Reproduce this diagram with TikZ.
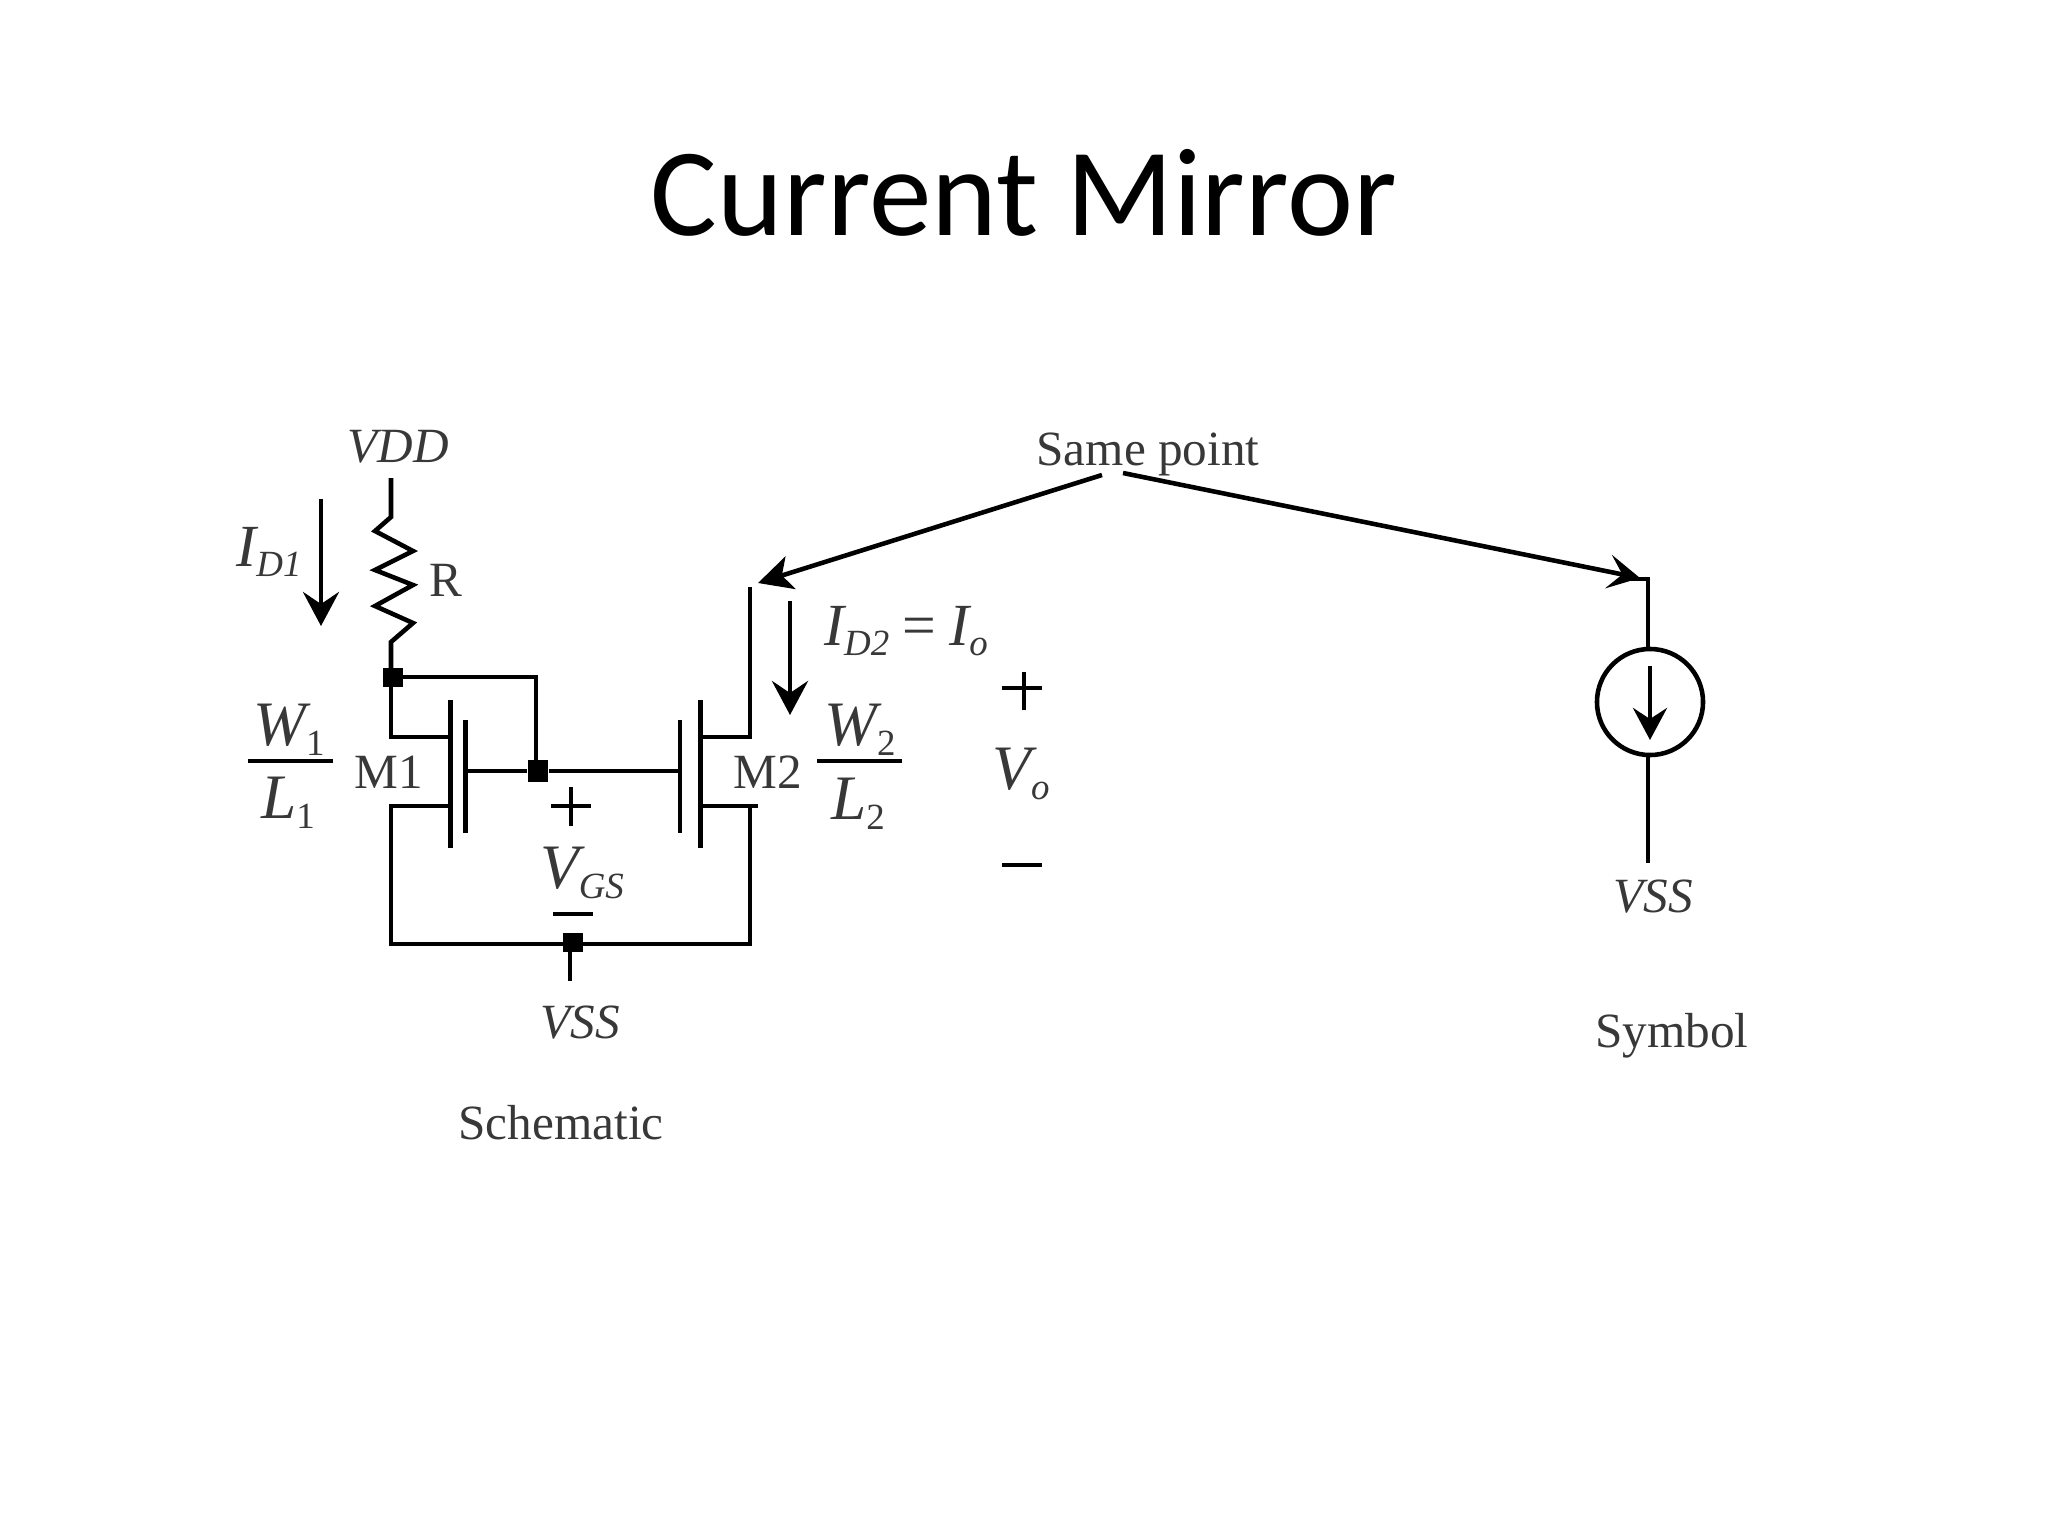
\documentclass[tikz,border=0pt]{standalone}
\usepackage{fontspec}
\setmainfont{Liberation Serif}
\newfontfamily\titlefont{Carlito}
\usetikzlibrary{arrows.meta}
\newcommand{\lbl}{\fontsize{14}{16}\selectfont}
\newcommand{\subs}[1]{\raisebox{-0.35ex}{\fontsize{10.5}{12}\selectfont #1}}
\tikzset{
  wire/.style={line width=1.3pt,black},
  junction/.style={fill=black,draw=none,minimum width=0.2cm,minimum height=0.19cm,inner sep=0pt},
  txt/.style={inner sep=0pt,text=black!78,font=\lbl},
  bigarrow/.style={wire,-{Stealth[length=0.34cm,width=0.36cm,inset=0.12cm]}},
  poin/.style={wire,-{Stealth[length=0.34cm,width=0.34cm,inset=0.09cm]}},
  poinb/.style={wire,-{Stealth[length=0.32cm,width=0.34cm,inset=0.14cm]}}
}
\begin{document}
\begin{tikzpicture}[x=0.01cm,y=-0.01cm]
\useasboundingbox (0,0) rectangle (2048,1536);
\node[inner sep=0pt,anchor=base,font=\titlefont\fontsize{35.6}{40}\selectfont,text=black] (title) at (1024,235) {Current Mirror};
% coordinates
\coordinate (vddtop) at (391,478);
\node[junction] (j1) at (393,677) {};
\coordinate (j1w) at (391,677);
\node[junction,minimum height=0.22cm] (j2) at (538,771) {};
\coordinate (j2t) at (536,771);
\node[junction] (j3) at (573,942) {};
\coordinate (j3w) at (570,944);
\coordinate (m1d) at (391,737);
\coordinate (m1dch) at (450,737);
\coordinate (m1s) at (391,806);
\coordinate (m1sch) at (450,806);
\coordinate (m1g) at (465,771);
\coordinate (m2g) at (680,771);
\coordinate (m2dch) at (702,737);
\coordinate (m2d) at (750,737);
\coordinate (m2top) at (750,587);
\coordinate (m2sch) at (702,806);
\coordinate (m2s) at (750,806);
\coordinate (m2sx) at (758,806);
\coordinate (bl) at (391,944);
\coordinate (br) at (750,944);
\coordinate (vssend) at (570,981);
% resistor and wires
\draw[wire,line join=miter] (vddtop) -- (391,517) -- (375,531) -- (413,551) -- (375,570) -- (413,585) -- (375,606) -- (413,623) -- (391,642) -- (j1w);
\draw[wire] (j1w) -- (m1d) -- (m1dch);
\draw[wire] (j1w) -| (j2t);
\draw[wire] (m1g) -- (j2) -- (m2g);
\draw[wire] (m1sch) -- (m1s) -- (bl) -- (br) -- (m2s) -- (m2sch);
\draw[wire] (m2s) -- (m2sx);
\draw[wire] (m2dch) -- (m2d) -- (m2top);
\draw[wire] (j3w) -- (vssend);
% MOS plates
\draw[wire] (450.5,700) -- (450.5,848);
\draw[wire] (465.5,720) -- (465.5,833);
\draw[wire] (700.5,700) -- (700.5,848);
\draw[wire] (680,720) -- (680,833);
% current arrows
\coordinate (id1a) at (321,499); \coordinate (id1b) at (321,626);
\draw[bigarrow] (id1a) -- (id1b);
\coordinate (id2a) at (790,601); \coordinate (id2b) at (790,715);
\draw[bigarrow] (id2a) -- (id2b);
% same point arrows
\coordinate (sp1) at (1102,475); \coordinate (sp2) at (1123,473);
\coordinate (sptipl) at (758,583); \coordinate (sptipr) at (1640,578);
\draw[poin] (sp1) -- (sptipl);
\draw[poinb] (sp2) -- (sptipr);
% symbol
\coordinate (symtop) at (1648,579);
\node[circle,draw=black,line width=1.3pt,minimum size=1.06cm,inner sep=0pt] (src) at (1650,702) {};
\coordinate (symbot) at (1648,863);
\coordinate (symcorner) at (1620,579);
\draw[wire] (symcorner) -- (symtop) -- (1648,647);
\draw[wire] (1648,757) -- (symbot);
\coordinate (ia) at (1650,666); \coordinate (ib) at (1650,740);
\draw[wire,-{Stealth[length=0.32cm,width=0.34cm,inset=0.11cm]}] (ia) -- (ib);
% plus/minus
\coordinate (p1l) at (551,806); \coordinate (p1r) at (591,806);
\coordinate (p1t) at (571,787); \coordinate (p1b) at (571,826);
\draw[wire] (p1l) -- (p1r); \draw[wire] (p1t) -- (p1b);
\coordinate (m1l) at (553,914); \coordinate (m1r) at (593,914);
\draw[wire] (m1l) -- (m1r);
\coordinate (p2l) at (1002,688); \coordinate (p2r) at (1042,688);
\coordinate (p2t) at (1024,672); \coordinate (p2b) at (1024,710);
\draw[wire] (p2l) -- (p2r); \draw[wire] (p2t) -- (p2b);
\coordinate (m2l) at (1002,865); \coordinate (m2r) at (1042,865);
\draw[wire] (m2l) -- (m2r);
% fraction rules
\coordinate (f1l) at (248,761); \coordinate (f1r) at (333,761);
\draw[wire] (f1l) -- (f1r);
\coordinate (f2l) at (817,761); \coordinate (f2r) at (902,761);
\draw[wire] (f2l) -- (f2r);
% labels
\node[txt] (vdd) at (398,447) {\itshape VDD};
\node[txt] (r) at (446,580) {R};
\node[txt] (id1l) at (269,552) {\fontsize{17}{18}\selectfont\itshape I\subs{\itshape D}\subs{1}};
\node[txt] (w1) at (289,730) {\fontsize{18}{20}\selectfont\itshape W\subs{\upshape 1}};
\node[txt] (l1) at (288,803) {\fontsize{18}{20}\selectfont\itshape L\subs{\upshape 1}};
\node[txt] (m1) at (389,772) {M1};
\node[txt] (m2) at (768,772) {M2};
\node[txt] (vgs) at (582,873) {\fontsize{18}{20}\selectfont\itshape V\subs{\itshape GS}};
\node[txt] (vss1) at (580,1023) {\itshape VSS};
\node[txt] (schem) at (561,1123) {Schematic};
\node[txt] (samep) at (1148,454) {Same point};
\node[txt] (id2l) at (906,631) {\fontsize{17}{18}\selectfont\itshape I\subs{\itshape D}\subs{2}\hspace{0.22em}\upshape=\hspace{0.22em}\itshape I\subs{\itshape o}};
\node[txt] (w2) at (860,730) {\fontsize{18}{20}\selectfont\itshape W\subs{\upshape 2}};
\node[txt] (l2) at (858,804) {\fontsize{18}{20}\selectfont\itshape L\subs{\upshape 2}};
\node[txt] (vo) at (1021,774) {\fontsize{18}{20}\selectfont\itshape V\subs{\itshape o}};
\node[txt] (vss2) at (1653,897) {\itshape VSS};
\node[txt] (symb) at (1672,1036) {Symbol};
\end{tikzpicture}
\end{document}
